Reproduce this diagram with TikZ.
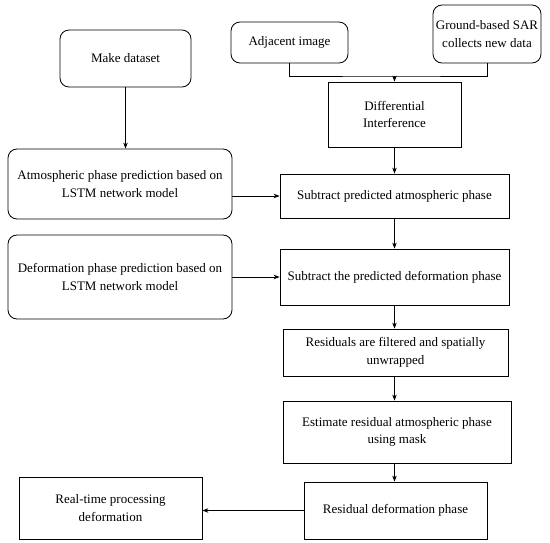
\documentclass[tikz,border=0pt]{standalone}
\usepackage{fontspec}
\setmainfont{Liberation Serif}
\usetikzlibrary{arrows.meta}
\begin{document}
\begin{tikzpicture}[x=1pt,y=-1pt,
    every node/.style={font=\fontsize{13}{17.5}\selectfont,align=center,inner sep=0pt},
    rbox/.style={draw,line width=0.8pt,rounded corners=9pt},
    sbox/.style={draw,line width=0.8pt},
    arr/.style={-{Stealth[length=6pt,width=4.5pt]},line width=0.8pt}]
\useasboundingbox (0,0) rectangle (550,543);
% inputs
\node[rbox,minimum width=131,minimum height=57] (make) at (125.5,58.5) {Make dataset};
\node[rbox,minimum width=117,minimum height=41] (adj) at (289.5,42.5) {Adjacent image};
\node[rbox,minimum width=108,minimum height=58] (sar) at (487,34) {Ground-based SAR\\collects new data};
\node[sbox,minimum width=133,minimum height=65] (diff) at (394.5,114.5) {Differential\\Interference};
% prediction
\node[rbox,minimum width=224,minimum height=70] (atm) at (120,184) {Atmospheric phase prediction based on\\LSTM network model};
\node[rbox,minimum width=224,minimum height=84] (defo) at (120,277) {Deformation phase prediction based on\\LSTM network model};
% main chain
\node[sbox,minimum width=229,minimum height=44] (subatm) at (394.5,196) {Subtract predicted atmospheric phase};
\node[sbox,minimum width=229,minimum height=56] (subdef) at (394.5,277) {Subtract the predicted deformation phase};
\node[sbox,minimum width=225,minimum height=47] (resid) at (395.5,352.5) {Residuals are filtered and spatially\\unwrapped};
\node[sbox,minimum width=228,minimum height=62] (est) at (397,432) {Estimate residual atmospheric phase\\using mask};
\node[sbox,minimum width=183,minimum height=57] (rd) at (395.5,510.5) {Residual deformation phase};
\node[sbox,minimum width=183,minimum height=62] (rt) at (110.5,508) {Real-time processing\\deformation};
% connectors
\coordinate (join) at (394.5,76);
\draw[line width=0.8pt] (adj.south) |- (join) -| (sar.south);
\draw[arr] (join) -- (diff.north);
\draw[arr] (diff.south) -- (diff.south |- subatm.north);
\draw[arr] (make.south) -- (make.south |- atm.north);
\draw[arr] (subatm.west -| atm.east) -- (subatm.west);
\draw[arr] (defo.east) -- (subdef.west);
\draw[arr] (subatm.south) -- (subatm.south |- subdef.north);
\draw[arr] (subdef.south) -- (subdef.south |- resid.north);
\draw[arr] (subdef.south |- resid.south) -- (subdef.south |- est.north);
\draw[arr] (subdef.south |- est.south) -- (subdef.south |- rd.north);
\draw[arr] (rd.west) -- (rd.west -| rt.east);
\end{tikzpicture}
\end{document}
